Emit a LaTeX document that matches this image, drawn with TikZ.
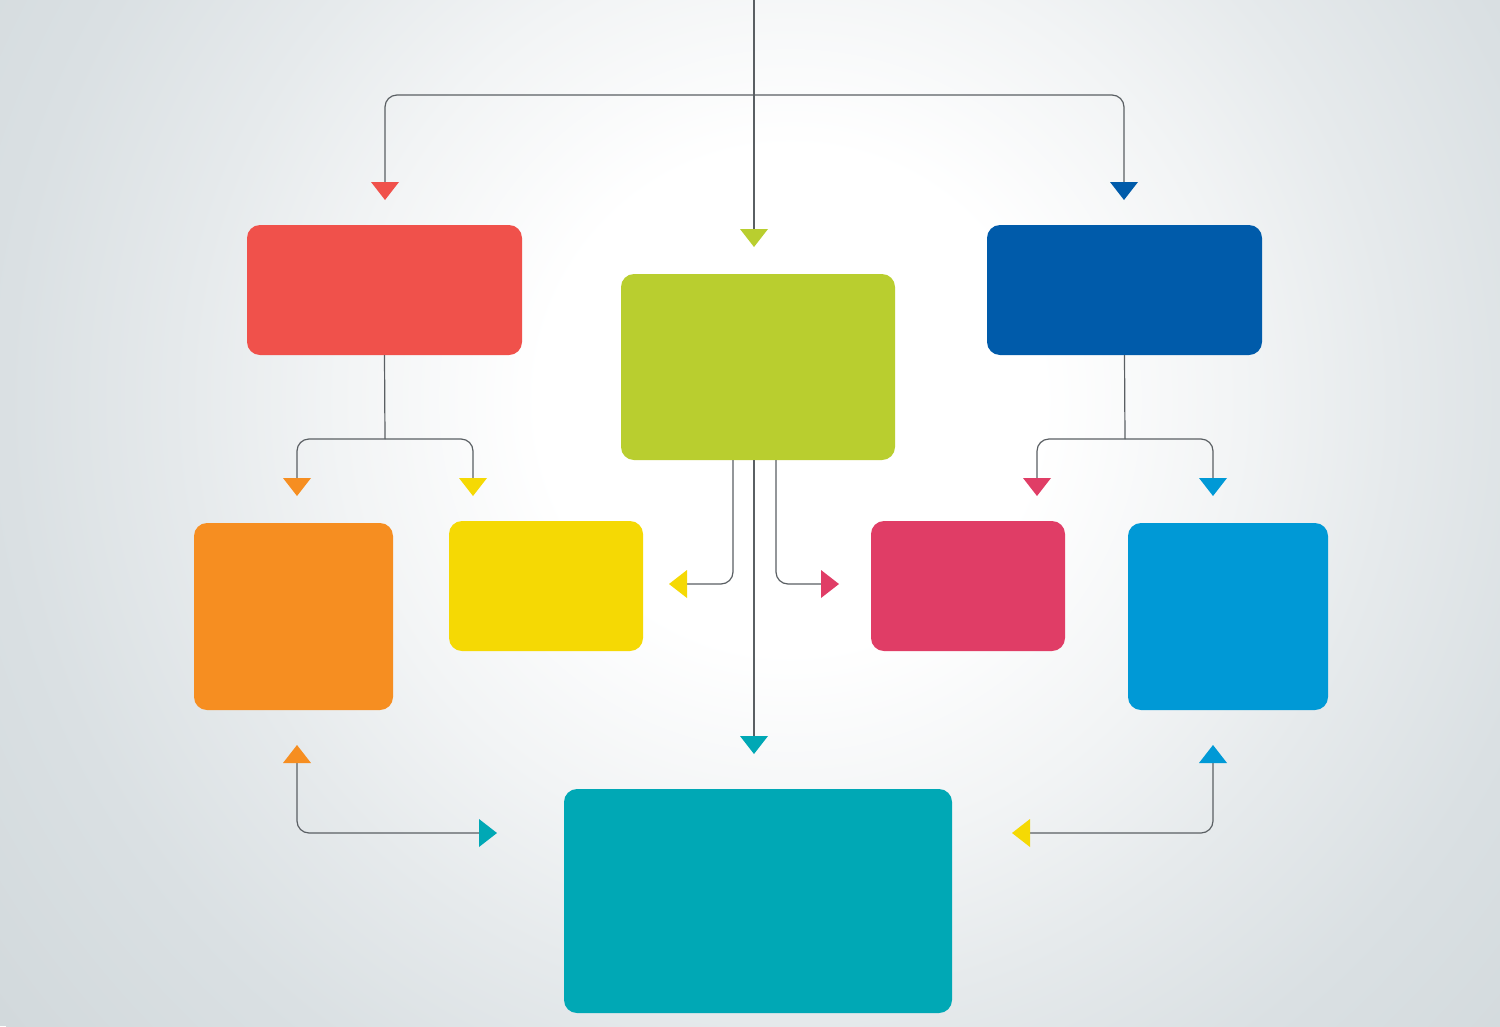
\documentclass[tikz,border=0pt]{standalone}
\usetikzlibrary{arrows.meta}
\definecolor{cred}{HTML}{F0514B}
\definecolor{cgreen}{HTML}{B9CE2F}
\definecolor{cdblue}{HTML}{005BAA}
\definecolor{corange}{HTML}{F68E21}
\definecolor{cyellow}{HTML}{F5D904}
\definecolor{cpink}{HTML}{E03D66}
\definecolor{clblue}{HTML}{0099D6}
\definecolor{cteal}{HTML}{00A8B5}
\definecolor{cline}{HTML}{5A5F63}
\definecolor{bgA}{HTML}{F2F4F5}
\definecolor{bgB}{HTML}{E6EAEC}
\definecolor{bgC}{HTML}{DAE0E3}
\definecolor{bgD}{HTML}{D2D9DC}
\pgfdeclareradialshading{bgshade}{\pgfpoint{0bp}{0bp}}{color(0bp)=(white); color(25bp)=(white); color(45bp)=(bgA); color(60bp)=(bgB); color(78bp)=(bgC); color(100bp)=(bgD)}
\tikzset{
  box/.style={rectangle, rounded corners=13pt, draw=none, inner sep=0pt},
  conn/.style={draw=cline, line width=1.2pt, rounded corners=12pt},
  tRed/.tip={Triangle[width=28pt,length=18pt,color=cred,line width=0pt]},
  tGreen/.tip={Triangle[width=28pt,length=18pt,color=cgreen,line width=0pt]},
  tDblue/.tip={Triangle[width=28pt,length=18pt,color=cdblue,line width=0pt]},
  tOrange/.tip={Triangle[width=28pt,length=18pt,color=corange,line width=0pt]},
  tYellow/.tip={Triangle[width=28pt,length=18pt,color=cyellow,line width=0pt]},
  tPink/.tip={Triangle[width=28pt,length=18pt,color=cpink,line width=0pt]},
  tLblue/.tip={Triangle[width=28pt,length=18pt,color=clblue,line width=0pt]},
  tTeal/.tip={Triangle[width=28pt,length=18pt,color=cteal,line width=0pt]},
}
\begin{document}
\begin{tikzpicture}[x=1pt,y=-1pt]
\useasboundingbox (0,0) rectangle (1500,1026);
\fill[bgD] (0,0) rectangle (1500,1026);
\begin{scope}
\clip (0,0) rectangle (1500,1026);
\pgftransformshift{\pgfpoint{790pt}{-400pt}}
\pgftransformscale{10}
\pgflowlevelsynccm
\pgfuseshading{bgshade}
\end{scope}
% boxes
\node[box, fill=cred,    minimum width=275pt, minimum height=130pt] (red)    at (384.5,290) {};
\node[box, fill=cgreen,  minimum width=274pt, minimum height=186pt] (green)  at (758,367) {};
\node[box, fill=cdblue,  minimum width=275pt, minimum height=130pt] (dblue)  at (1124.5,290) {};
\node[box, fill=corange, minimum width=199pt, minimum height=187pt] (orange) at (293.5,616.5) {};
\node[box, fill=cyellow, minimum width=194pt, minimum height=130pt] (yellow) at (546,586) {};
\node[box, fill=cpink,   minimum width=194pt, minimum height=130pt] (pink)   at (968,586) {};
\node[box, fill=clblue,  minimum width=200pt, minimum height=187pt] (lblue)  at (1228,616.5) {};
\node[box, fill=cteal,   minimum width=388pt, minimum height=224pt] (teal)   at (758,901) {};
% coordinates
\coordinate (top) at (754,0);
\coordinate (topj) at (754,95);
\coordinate (greentip) at (754,247);
\coordinate (redtip) at (385,200);
\coordinate (dbluetip) at (1124,200);
\coordinate (redj) at (385,439);
\coordinate (oratip) at (297,496);
\coordinate (yeltip) at (473,496);
\coordinate (dbluej) at (1125,439);
\coordinate (pinktip) at (1037,496);
\coordinate (lbluetip) at (1213,496);
\coordinate (gyeltip) at (669,584);
\coordinate (gpinktip) at (839,584);
\coordinate (tealtip) at (754,754);
\coordinate (oraup) at (297,745);
\coordinate (tealL) at (497,833);
\coordinate (lblueup) at (1213,745);
\coordinate (tealR) at (1012,833);
% connectors
\draw[conn,-{tGreen}] (top) -- (greentip);
\draw[conn,-{tRed}] (topj) -| (redtip);
\draw[conn,-{tDblue}] (topj) -| (dbluetip);
\draw[conn] (red.south) -- (redj);
\draw[conn,-{tOrange}] (redj) -| (oratip);
\draw[conn,-{tYellow}] (redj) -| (yeltip);
\draw[conn] (dblue.south) -- (dbluej);
\draw[conn,-{tPink}] (dbluej) -| (pinktip);
\draw[conn,-{tLblue}] (dbluej) -| (lbluetip);
\draw[conn,-{tYellow}] ([xshift=-25pt]green.south) |- (gyeltip);
\draw[conn,-{tPink}] ([xshift=18pt]green.south) |- (gpinktip);
\draw[conn,-{tTeal}] ([xshift=-4pt]green.south) -- (tealtip);
\draw[conn,{tOrange}-{tTeal}] (oraup) |- (tealL);
\draw[conn,{tLblue}-{tYellow}] (lblueup) |- (tealR);
\end{tikzpicture}
\end{document}
